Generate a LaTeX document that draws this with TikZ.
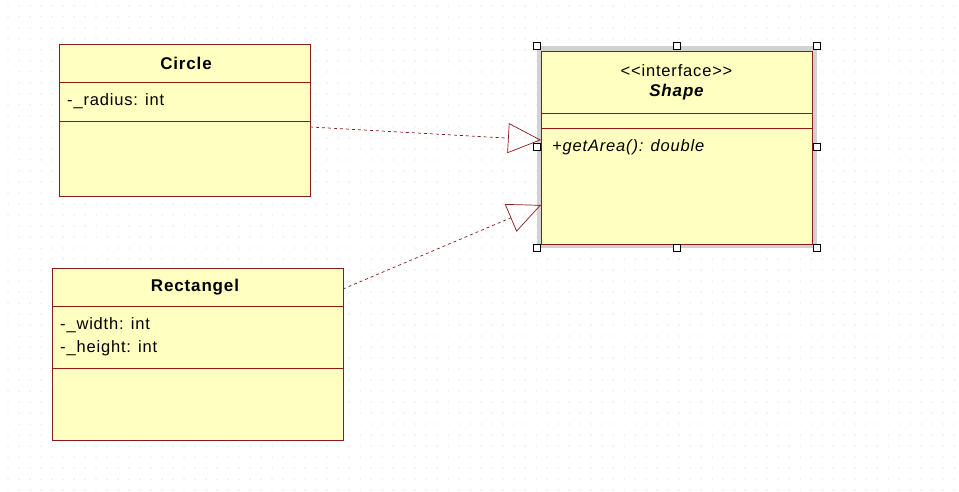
\documentclass[tikz,border=0pt]{standalone}
\usepackage{fontspec}
\setmainfont{Liberation Sans}[LetterSpace=5]
\usetikzlibrary{arrows.meta}
\definecolor{umlred}{HTML}{8B1A1A}
\definecolor{umlfill}{HTML}{FFFFC0}
\begin{document}
\begin{tikzpicture}[x=1pt,y=-1pt,
  cls/.style={draw=umlred,fill=umlfill,line width=0.8pt},
  sep/.style={draw=umlred,line width=0.8pt},
  real/.style={draw=umlred,dashed,line width=0.7pt,-{Triangle[open,length=33pt,width=30pt]}},
  handle/.style={draw=black,fill=white,line width=0.6pt,minimum size=7pt,inner sep=0pt},
  lbl/.style={font=\fontsize{16.5}{18}\selectfont,anchor=west,inner sep=0pt}]
\fill[white] (0,0) rectangle (959,492);
\useasboundingbox (0,0) rectangle (959,492);
\foreach \i in {0,...,86} \foreach \j in {0,...,44}
  \fill[gray!50] (8+\i*11,6+\j*11) circle (0.5);
% Circle
\draw[cls] (59,44) rectangle (310,196);
\draw[sep] (59,82) -- (310,82); \draw[sep] (59,121) -- (310,121);
\node[font=\bfseries\fontsize{17}{19}\selectfont] (ct) at (186,63) {Circle};
\node[lbl] (cr) at (67,101) {-\_radius: int};
\coordinate (cs) at (310,127);
% Rectangel
\draw[cls] (52,268) rectangle (343,440);
\draw[sep] (52,306) -- (343,306); \draw[sep] (52,368) -- (343,368);
\node[font=\bfseries\fontsize{17}{19}\selectfont] (rt) at (195,287) {Rectangel};
\node[lbl] (rw) at (60,325) {-\_width: int};
\node[lbl] (rh) at (60,348) {-\_height: int};
\coordinate (rs) at (343,289);
% Shape selection frame
\fill[gray!35] (537,46) rectangle (817,248);
\draw[cls] (541,51) rectangle (812,244);
\draw[sep] (541,113) -- (812,113); \draw[sep] (541,128) -- (812,128);
\node[font=\fontsize{16.5}{18}\selectfont] (st) at (676.5,71) {{<}{<}interface{>}{>}};
\node[font=\bfseries\itshape\fontsize{17}{19}\selectfont] (sn) at (676.5,92) {Shape};
\node[lbl,font=\itshape\fontsize{16.5}{18}\selectfont] (sm) at (552,147) {+getArea(): double};
\foreach \x/\y [count=\k] in {537/46,677/46,817/46,537/147,817/147,537/248,677/248,817/248}
  \node[handle] (h\k) at (\x,\y) {};
\coordinate (t1) at (541,140);
\coordinate (t2) at (541,205);
\draw[real] (cs) -- (t1);
\draw[real] (rs) -- (t2);
\end{tikzpicture}
\end{document}
